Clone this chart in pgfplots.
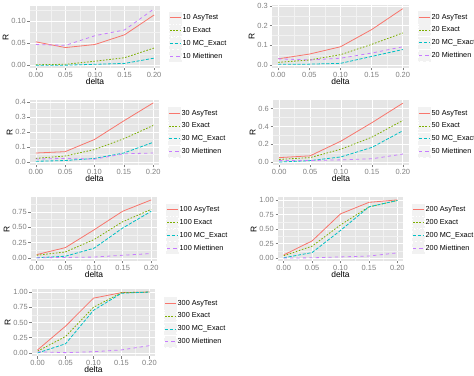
\documentclass[border=0pt]{standalone}
\usepackage{fontspec}
\setmainfont{Liberation Sans}
\usepackage{pgfplots}
\pgfplotsset{compat=1.18}
\definecolor{ggred}{HTML}{F8766D}
\definecolor{gggreen}{HTML}{7CAE00}
\definecolor{ggcyan}{HTML}{00BFC4}
\definecolor{ggpurple}{HTML}{C77CFF}
\definecolor{ggpanel}{HTML}{E5E5E5}
\definecolor{ggminor}{HTML}{F2F2F2}
\definecolor{ggkey}{HTML}{F2F2F2}
\definecolor{ggtext}{HTML}{7F7F7F}
\pgfplotsset{
  legend image code/.code={
    \fill[ggkey] (0bp,-5.7bp) rectangle (11.5bp,5.7bp);
    \draw[#1] (0.3bp,0bp) -- (11.2bp,0bp);
  },
  gg/.style={
    scale only axis,
    axis background/.style={fill=ggpanel},
    axis line style={draw=none},
    xmin=-0.01, xmax=0.21,
    xtick={0,0.05,0.1,0.15,0.2},
    xticklabels={0.00,0.05,0.10,0.15,0.20},
    minor xtick={0.025,0.075,0.125,0.175},
    grid=both,
    major grid style={draw=white, line width=0.7bp},
    minor grid style={draw=ggminor, line width=0.35bp},
    tick align=outside,
    xtick pos=bottom, ytick pos=left,
    major tick length=2.5bp, minor tick length=0bp,
    tick style={draw=ggtext, line width=0.5bp},
    /pgf/number format/assume math mode=true,
    ticklabel style={font=\fontsize{7.5}{8}\selectfont, text=ggtext},
    xticklabel style={inner sep=1.2bp},
    yticklabel style={inner sep=1.5bp},
    xlabel={delta}, ylabel={R},
    label style={font=\fontsize{8.5}{9}\selectfont},
    xlabel style={inner sep=0.5bp, yshift=1bp},
    ylabel style={inner sep=1bp},
    legend style={at={(1,0.5)}, xshift=9bp, anchor=west, draw=none, fill=none,
      font=\fontsize{7.3}{8}\selectfont, row sep=0.6bp, inner sep=0pt,
      nodes={inner sep=1.2bp}},
    legend cell align=left,
    scaled y ticks=false,
  },
  asy/.style={color=ggred, line width=0.8bp, solid},
  exa/.style={color=gggreen, line width=0.8bp, dash pattern=on 1.6bp off 1.6bp},
  mce/.style={color=ggcyan, line width=0.8bp, dash pattern=on 3.2bp off 1.6bp},
  mie/.style={color=ggpurple, line width=0.8bp, dash pattern=on 3.2bp off 3.2bp},
}
\begin{document}
\begin{tikzpicture}
\path[use as bounding box] (0,0) rectangle (474bp,376bp);
% ---- 10
\begin{axis}[gg, at={(30bp,308bp)}, anchor=south west, width=130bp, height=62bp,
  ymin=-0.0064, ymax=0.1344, ytick={0,0.05,0.1}, yticklabels={0.00,0.05,0.10},
  minor ytick={0.025,0.075,0.125}]
\addplot[asy] coordinates {(0,0.053)(0.05,0.040)(0.1,0.047)(0.15,0.069)(0.2,0.114)};
\addplot[exa] coordinates {(0,0.001)(0.05,0.002)(0.1,0.009)(0.15,0.017)(0.2,0.039)};
\addplot[mce] coordinates {(0,0.000)(0.05,0.000)(0.1,0.002)(0.15,0.004)(0.2,0.016)};
\addplot[mie] coordinates {(0,0.047)(0.05,0.045)(0.1,0.067)(0.15,0.080)(0.2,0.128)};
\legend{10 AsyTest,10 Exact,10 MC\_Exact,10 Miettinen}
\end{axis}
% ---- 20
\begin{axis}[gg, at={(272bp,308bp)}, anchor=south west, width=137bp, height=63bp,
  ymin=-0.0145, ymax=0.3045, ytick={0,0.1,0.2,0.3}, yticklabels={0.0,0.1,0.2,0.3},
  minor ytick={0.05,0.15,0.25}]
\addplot[asy] coordinates {(0,0.032)(0.05,0.056)(0.1,0.093)(0.15,0.180)(0.2,0.286)};
\addplot[exa] coordinates {(0,0.014)(0.05,0.026)(0.1,0.053)(0.15,0.105)(0.2,0.163)};
\addplot[mce] coordinates {(0,0.004)(0.05,0.005)(0.1,0.009)(0.15,0.044)(0.2,0.079)};
\addplot[mie] coordinates {(0,0.032)(0.05,0.026)(0.1,0.035)(0.15,0.061)(0.2,0.093)};
\legend{20 AsyTest,20 Exact,20 MC\_Exact,20 Miettinen}
\end{axis}
% ---- 30
\begin{axis}[gg, at={(30bp,211bp)}, anchor=south west, width=129bp, height=65bp,
  ymin=-0.0197, ymax=0.4127, ytick={0,0.1,0.2,0.3,0.4}, yticklabels={0.0,0.1,0.2,0.3,0.4},
  minor ytick={0.05,0.15,0.25,0.35}]
\addplot[asy] coordinates {(0,0.060)(0.05,0.069)(0.1,0.150)(0.15,0.274)(0.2,0.393)};
\addplot[exa] coordinates {(0,0.024)(0.05,0.040)(0.1,0.083)(0.15,0.155)(0.2,0.243)};
\addplot[mce] coordinates {(0,0.005)(0.05,0.010)(0.1,0.024)(0.15,0.060)(0.2,0.131)};
\addplot[mie] coordinates {(0,0.020)(0.05,0.024)(0.1,0.019)(0.15,0.055)(0.2,0.060)};
\legend{30 AsyTest,30 Exact,30 MC\_Exact,30 Miettinen}
\end{axis}
% ---- 50
\begin{axis}[gg, at={(273bp,211bp)}, anchor=south west, width=136bp, height=65bp,
  ymin=-0.033, ymax=0.698, ytick={0,0.2,0.4,0.6}, yticklabels={0.0,0.2,0.4,0.6},
  minor ytick={0.1,0.3,0.5}]
\addplot[asy] coordinates {(0,0.050)(0.05,0.070)(0.1,0.236)(0.15,0.443)(0.2,0.662)};
\addplot[exa] coordinates {(0,0.030)(0.05,0.050)(0.1,0.145)(0.15,0.280)(0.2,0.468)};
\addplot[mce] coordinates {(0,0.000)(0.05,0.016)(0.1,0.058)(0.15,0.165)(0.2,0.352)};
\addplot[mie] coordinates {(0,0.017)(0.05,0.017)(0.1,0.025)(0.15,0.037)(0.2,0.090)};
\legend{50 AsyTest,50 Exact,50 MC\_Exact,50 Miettinen}
\end{axis}
% ---- 100
\begin{axis}[gg, at={(31bp,115bp)}, anchor=south west, width=126bp, height=64bp,
  ymin=-0.047, ymax=0.991, ytick={0,0.25,0.5,0.75}, yticklabels={0.00,0.25,0.50,0.75},
  minor ytick={0.125,0.375,0.625,0.875}]
\addplot[asy] coordinates {(0,0.057)(0.05,0.170)(0.1,0.458)(0.15,0.760)(0.2,0.944)};
\addplot[exa] coordinates {(0,0.046)(0.05,0.100)(0.1,0.300)(0.15,0.590)(0.2,0.790)};
\addplot[mce] coordinates {(0,0.006)(0.05,0.030)(0.1,0.160)(0.15,0.487)(0.2,0.760)};
\addplot[mie] coordinates {(0,0.006)(0.05,0.010)(0.1,0.017)(0.15,0.046)(0.2,0.074)};
\legend{100 AsyTest,100 Exact,100 MC\_Exact,100 Miettinen}
\end{axis}
% ---- 200
\begin{axis}[gg, at={(278bp,115bp)}, anchor=south west, width=125bp, height=64bp,
  ymin=-0.05, ymax=1.05, ytick={0,0.25,0.5,0.75,1}, yticklabels={0.00,0.25,0.50,0.75,1.00},
  minor ytick={0.125,0.375,0.625,0.875}]
\addplot[asy] coordinates {(0,0.054)(0.05,0.295)(0.1,0.760)(0.15,0.958)(0.2,1.000)};
\addplot[exa] coordinates {(0,0.040)(0.05,0.205)(0.1,0.570)(0.15,0.880)(0.2,0.990)};
\addplot[mce] coordinates {(0,0.005)(0.05,0.095)(0.1,0.475)(0.15,0.880)(0.2,0.990)};
\addplot[mie] coordinates {(0,0.000)(0.05,0.005)(0.1,0.020)(0.15,0.035)(0.2,0.090)};
\legend{200 AsyTest,200 Exact,200 MC\_Exact,200 Miettinen}
\end{axis}
% ---- 300
\begin{axis}[gg, at={(32bp,20bp)}, anchor=south west, width=123bp, height=67bp,
  ymin=-0.05, ymax=1.05, ytick={0,0.25,0.5,0.75,1}, yticklabels={0.00,0.25,0.50,0.75,1.00},
  minor ytick={0.125,0.375,0.625,0.875}]
\addplot[asy] coordinates {(0,0.050)(0.05,0.440)(0.1,0.900)(0.15,0.990)(0.2,1.000)};
\addplot[exa] coordinates {(0,0.030)(0.05,0.270)(0.1,0.750)(0.15,0.990)(0.2,1.000)};
\addplot[mce] coordinates {(0,0.000)(0.05,0.150)(0.1,0.700)(0.15,0.980)(0.2,1.000)};
\addplot[mie] coordinates {(0,0.020)(0.05,0.005)(0.1,0.020)(0.15,0.050)(0.2,0.120)};
\legend{300 AsyTest,300 Exact,300 MC\_Exact,300 Miettinen}
\end{axis}
\end{tikzpicture}
\end{document}
